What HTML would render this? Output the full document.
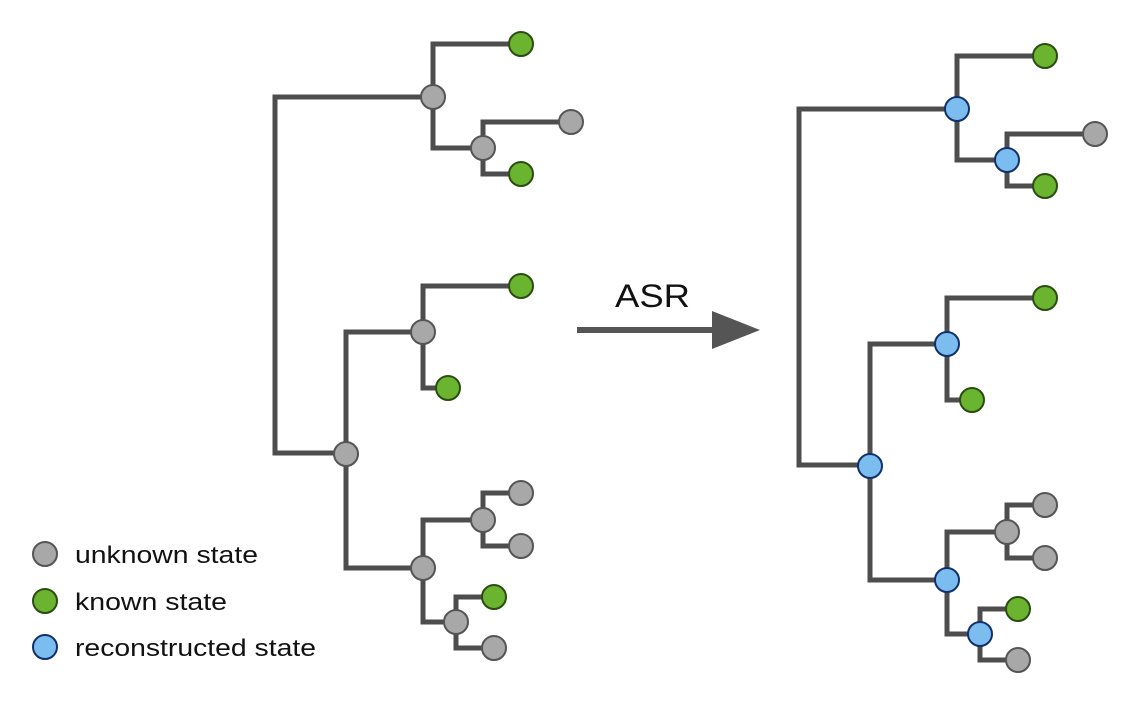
<!DOCTYPE html>
<html><head><meta charset="utf-8"><style>
html,body{margin:0;padding:0;background:#fff;width:1138px;height:708px;overflow:hidden}
</style></head><body>
<svg width="1138" height="708" viewBox="0 0 1138 708" xmlns="http://www.w3.org/2000/svg">
<defs>
<g id="edges" fill="none" stroke="#4d4d4d" stroke-width="5" stroke-linejoin="miter" stroke-linecap="square">
<path d="M433 44H521M433 44V148H483M275 97H433M275 97V453H346M483 122H571M483 122V174H521M346 332H423M346 332V568H423M423 286H521M423 286V388H448M423 520H483M423 520V622H456M483 493H521M483 493V546H521M456 597H494M456 597V648H494"/>
</g>
</defs>
<use href="#edges"/>
<use href="#edges" transform="translate(524,12)"/>
<g stroke-width="2">
<g fill="#6ab42f" stroke="#2b4d12">
<circle cx="521" cy="44" r="12"/><circle cx="521" cy="174" r="12"/><circle cx="521" cy="286" r="12"/><circle cx="448" cy="388" r="12"/><circle cx="494" cy="597" r="12"/>
<circle cx="1045" cy="56" r="12"/><circle cx="1045" cy="186" r="12"/><circle cx="1045" cy="298" r="12"/><circle cx="972" cy="400" r="12"/><circle cx="1018" cy="609" r="12"/>
<circle cx="45" cy="601" r="12"/>
</g>
<g fill="#a8a8a8" stroke="#555">
<circle cx="571" cy="122" r="12"/><circle cx="521" cy="493" r="12"/><circle cx="521" cy="546" r="12"/><circle cx="494" cy="648" r="12"/>
<circle cx="433" cy="97" r="12"/><circle cx="483" cy="148" r="12"/><circle cx="346" cy="454" r="12"/><circle cx="423" cy="332" r="12"/><circle cx="423" cy="568" r="12"/><circle cx="483" cy="520" r="12"/><circle cx="456" cy="622" r="12"/>
<circle cx="1095" cy="134" r="12"/><circle cx="1045" cy="505" r="12"/><circle cx="1045" cy="558" r="12"/><circle cx="1018" cy="660" r="12"/>
<circle cx="1007" cy="532" r="12"/>
<circle cx="45" cy="554" r="12"/>
</g>
<g fill="#7cbdf0" stroke="#13306e">
<circle cx="957" cy="109" r="12"/><circle cx="1007" cy="160" r="12"/><circle cx="870" cy="466" r="12"/><circle cx="947" cy="344" r="12"/><circle cx="947" cy="580" r="12"/><circle cx="980" cy="634" r="12"/>
<circle cx="45" cy="647" r="12"/>
</g>
</g>
<line x1="577" y1="330" x2="716" y2="330" stroke="#555" stroke-width="6"/>
<polygon points="712,311 760,330 712,349" fill="#555"/>
<text x="615" y="307" font-family="Liberation Sans, sans-serif" font-size="32" textLength="75" lengthAdjust="spacingAndGlyphs" fill="#111">ASR</text>
<g font-family="Liberation Sans, sans-serif" font-size="24" fill="#111">
<text x="75" y="563" textLength="183" lengthAdjust="spacingAndGlyphs">unknown state</text>
<text x="75" y="610" textLength="152" lengthAdjust="spacingAndGlyphs">known state</text>
<text x="75" y="656" textLength="241" lengthAdjust="spacingAndGlyphs">reconstructed state</text>
</g>
</svg>
</body></html>
